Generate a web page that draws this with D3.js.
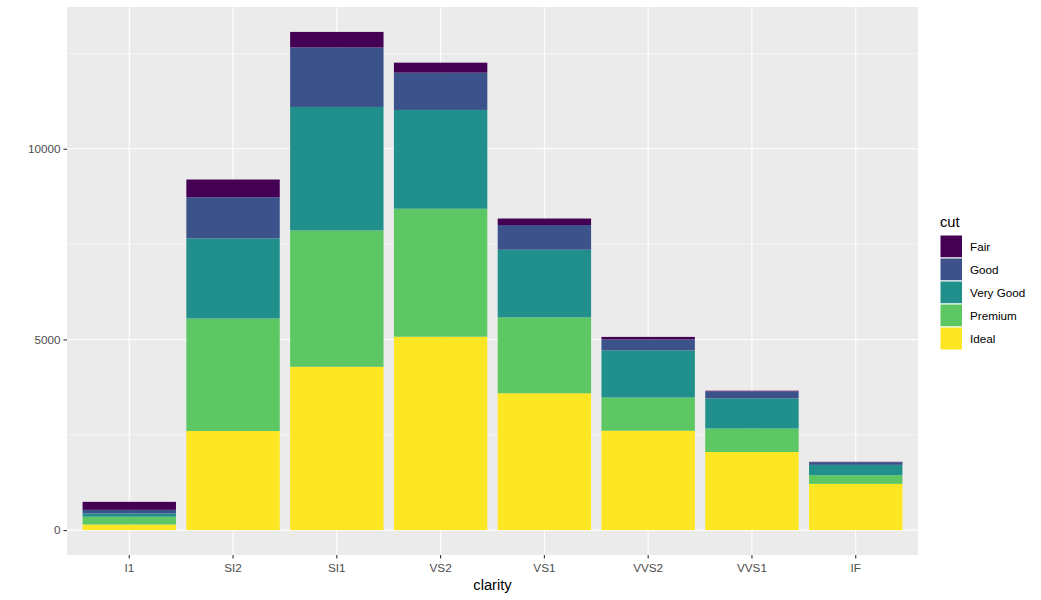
<!DOCTYPE html>
<html>
<head>
<meta charset="utf-8">
<script src="https://cdn.jsdelivr.net/npm/d3@7"></script>
<style>
  body { margin: 0; background: #fff; }
  text { font-family: "Liberation Sans", Arial, sans-serif; }
</style>
</head>
<body>
<script>
// diamonds: count by clarity and cut
var clarity = ["I1", "SI2", "SI1", "VS2", "VS1", "VVS2", "VVS1", "IF"];
var cuts = ["Fair", "Good", "Very Good", "Premium", "Ideal"];
var fair     = [210, 466, 408, 261, 170, 69, 17, 9];
var good     = [96, 1081, 1560, 978, 648, 286, 186, 71];
var veryGood = [84, 2100, 3240, 2591, 1775, 1235, 789, 268];
var premium  = [205, 2949, 3575, 3357, 1989, 870, 616, 230];
var ideal    = [146, 2598, 4282, 5071, 3589, 2606, 2047, 1212];
var yTicks = [0, 5000, 10000];
var yMinor = [2500, 7500, 12500];
var colors = ["#440154", "#3B528B", "#21908C", "#5DC863", "#FDE725"];

var W = 1041, H = 600;
var pLeft = 67, pRight = 918, pTop = 7, pBottom = 555;

var rows = clarity.map(function (c, i) {
  return { clarity: c, "Fair": fair[i], "Good": good[i], "Very Good": veryGood[i],
           "Premium": premium[i], "Ideal": ideal[i] };
});

// Ideal at the bottom, Fair on top
var stack = d3.stack().keys(cuts.slice().reverse());
var series = stack(rows);

var maxY = d3.max(rows, function (r) { return d3.sum(cuts, function (k) { return r[k]; }); });
var pad = maxY * 0.05;

var x = d3.scaleBand().domain(clarity)
  .range([pLeft, pRight])
  .paddingInner(0.1).paddingOuter(0.15);
var y = d3.scaleLinear().domain([-pad, maxY + pad]).range([pBottom, pTop]);
var color = d3.scaleOrdinal().domain(cuts).range(colors);

var svg = d3.select("body").append("svg")
  .attr("width", W).attr("height", H);

svg.append("rect")
  .attr("x", pLeft).attr("y", pTop)
  .attr("width", pRight - pLeft).attr("height", pBottom - pTop)
  .attr("fill", "#EBEBEB");

svg.selectAll(".minor").data(yMinor).enter().append("line")
  .attr("x1", pLeft).attr("x2", pRight)
  .attr("y1", function (d) { return y(d); }).attr("y2", function (d) { return y(d); })
  .attr("stroke", "#fff").attr("stroke-width", 0.55);

svg.selectAll(".majorY").data(yTicks).enter().append("line")
  .attr("x1", pLeft).attr("x2", pRight)
  .attr("y1", function (d) { return y(d); }).attr("y2", function (d) { return y(d); })
  .attr("stroke", "#fff").attr("stroke-width", 1.1);

svg.selectAll(".majorX").data(clarity).enter().append("line")
  .attr("x1", function (d) { return x(d) + x.bandwidth() / 2; })
  .attr("x2", function (d) { return x(d) + x.bandwidth() / 2; })
  .attr("y1", pTop).attr("y2", pBottom)
  .attr("stroke", "#fff").attr("stroke-width", 1.1);

svg.append("g").selectAll("g").data(series).enter().append("g")
  .attr("fill", function (s) { return color(s.key); })
  .selectAll("rect").data(function (s) { return s; }).enter().append("rect")
  .attr("x", function (d) { return x(d.data.clarity); })
  .attr("width", x.bandwidth())
  .attr("y", function (d) { return y(d[1]); })
  .attr("height", function (d) { return y(d[0]) - y(d[1]); });

// axes
var yAxis = d3.axisLeft(y).tickValues(yTicks).tickFormat(d3.format("d")).tickSize(3.5).tickPadding(3);
var gy = svg.append("g").attr("transform", "translate(" + pLeft + ",0)").call(yAxis);
gy.select(".domain").remove();
gy.selectAll("line").attr("stroke", "#333").attr("stroke-width", 1.1);
gy.selectAll("text").attr("fill", "#4D4D4D").style("font-size", "11.7px")
  .style("font-family", "'Liberation Sans', Arial, sans-serif");

var xAxis = d3.axisBottom(x).tickSize(3.5).tickPadding(5.5);
var gx = svg.append("g").attr("transform", "translate(0," + pBottom + ")").call(xAxis);
gx.select(".domain").remove();
gx.selectAll("line").attr("stroke", "#333").attr("stroke-width", 1.1);
gx.selectAll("text").attr("fill", "#4D4D4D").style("font-size", "11.7px")
  .style("font-family", "'Liberation Sans', Arial, sans-serif");

svg.append("text")
  .attr("x", (pLeft + pRight) / 2).attr("y", 590)
  .attr("text-anchor", "middle")
  .style("font-size", "14.7px")
  .text("clarity");

// legend
var lg = svg.append("g").attr("transform", "translate(940,0)");
lg.append("text").attr("x", 0).attr("y", 227)
  .style("font-size", "14.7px").text("cut");

var items = lg.selectAll(".item").data(cuts).enter().append("g")
  .attr("transform", function (d, i) { return "translate(0," + (235 + i * 23) + ")"; });
items.append("rect")
  .attr("width", 22.5).attr("height", 23)
  .attr("fill", function (d) { return color(d); })
  .attr("stroke", "#fff").attr("stroke-width", 1);
items.append("text")
  .attr("x", 30).attr("y", 11.5).attr("dy", "0.35em")
  .style("font-size", "11.7px").attr("fill", "#000")
  .text(function (d) { return d; });
</script>
</body>
</html>
